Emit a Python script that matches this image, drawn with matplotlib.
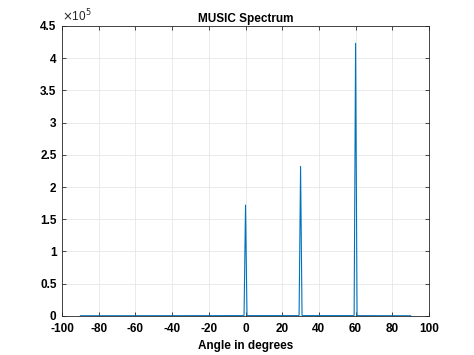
import matplotlib.pyplot as plt
from matplotlib.ticker import FuncFormatter

plt.rcParams['font.family'] = ['Liberation Sans', 'DejaVu Sans']
plt.rcParams['axes.unicode_minus'] = False

# MUSIC pseudo-spectrum samples (angle in degrees, power)
angles = [-90, -1.0, -0.8, 0, 0.8, 1.0,
          29.0, 29.2, 30, 30.8, 31.0,
          59.0, 59.2, 60, 60.8, 61.0, 90]
spectrum = [300, 500, 1500, 172000, 1500, 500,
            500, 1500, 232000, 1500, 500,
            500, 1500, 423000, 1500, 500, 300]

xticks = list(range(-100, 101, 20))
yticks = [v * 1e5 for v in [0, 0.5, 1, 1.5, 2, 2.5, 3, 3.5, 4, 4.5]]

fig = plt.figure(figsize=(4.74, 3.55), dpi=100)
ax = fig.add_axes([0.131, 0.110, 0.774, 0.817])

ax.plot(angles, spectrum, color='#0072BD', linewidth=0.8)

ax.set_xlim(-100, 100)
ax.set_ylim(0, 4.5e5)
ax.set_xticks(xticks)
ax.set_yticks(yticks)
ax.yaxis.set_major_formatter(FuncFormatter(lambda v, p: f'{v / 1e5:g}'))

ax.grid(True, color='#e6e6e6', linewidth=0.6)
ax.set_axisbelow(True)
ax.tick_params(direction='in', top=True, right=True, length=3,
               width=0.6, color='#262626', labelsize=8.5)
ax.tick_params(axis='x', pad=5)
ax.tick_params(axis='y', pad=4)
for lbl in ax.get_xticklabels() + ax.get_yticklabels():
    lbl.set_fontweight('bold')
for s in ax.spines.values():
    s.set_color('#262626')
    s.set_linewidth(0.6)

ax.text(0.0, 1.005, r'$\times$10$^{5}$', transform=ax.transAxes,
        ha='left', va='bottom', fontsize=8.5, color='#262626')
ax.set_title('MUSIC Spectrum', fontsize=8.5, fontweight='bold', pad=3)
ax.set_xlabel('Angle in degrees', fontsize=8.5, fontweight='bold', labelpad=4)

fig.savefig('out.png', dpi=100)
